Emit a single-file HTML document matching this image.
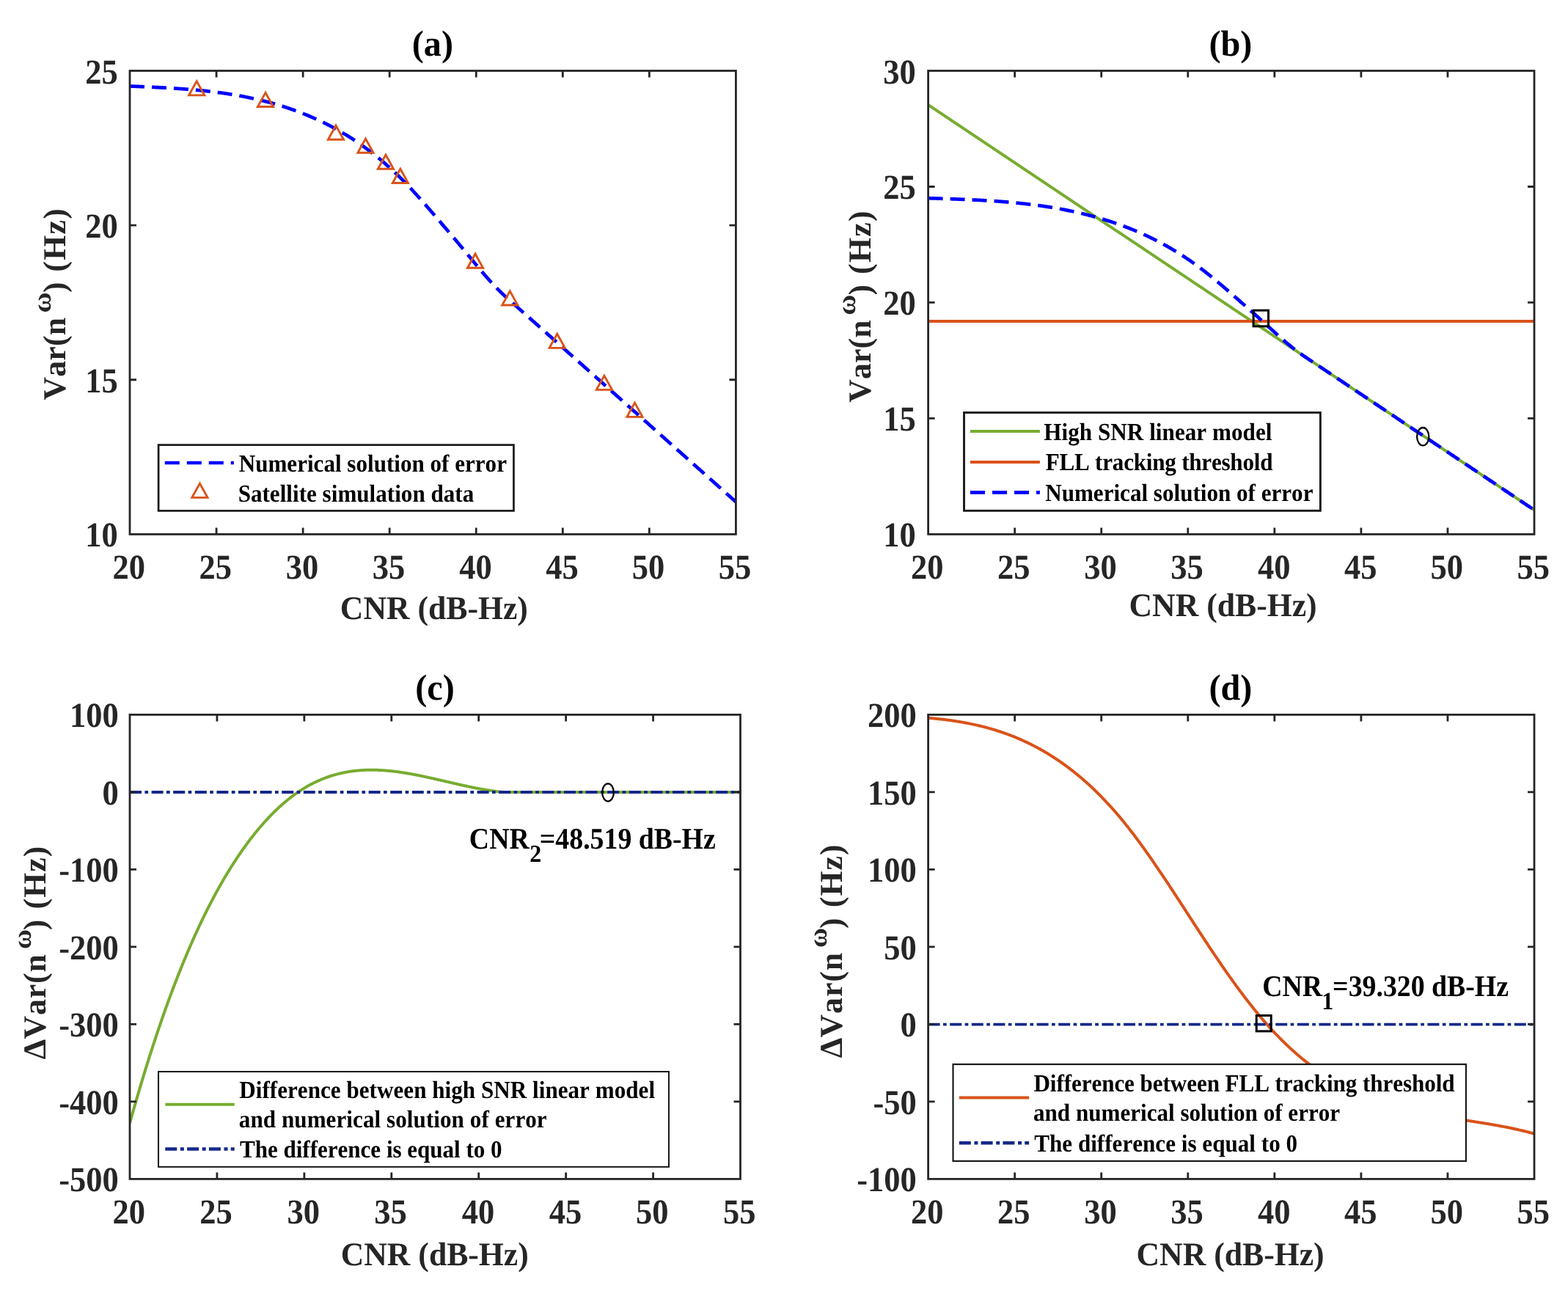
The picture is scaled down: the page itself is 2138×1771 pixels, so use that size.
<!DOCTYPE html>
<html><head><meta charset="utf-8"><title>Figure</title>
<style>
html,body{margin:0;padding:0;background:#fff;}
body{width:2138px;height:1771px;overflow:hidden;}
svg{display:block;}
text{font-kerning:none;text-rendering:geometricPrecision;}
</style></head><body>
<svg width="2138" height="1771" viewBox="0 0 2138 1771" font-family="'Liberation Serif', 'Times New Roman', serif">
<rect x="0" y="0" width="2138" height="1771" fill="#ffffff"/>
<clipPath id="clipa"><rect x="177.00" y="96.50" width="826.40" height="631.90"/></clipPath>
<clipPath id="clipb"><rect x="1265.60" y="96.50" width="826.40" height="631.90"/></clipPath>
<clipPath id="clipc"><rect x="177.00" y="974.40" width="832.50" height="633.00"/></clipPath>
<clipPath id="clipd"><rect x="1265.60" y="974.40" width="826.40" height="633.00"/></clipPath>
<g clip-path="url(#clipa)">
<path d="M177.00 117.42 L178.18 117.48 L179.36 117.53 L180.55 117.58 L181.73 117.63 L182.91 117.68 L184.09 117.73 L185.28 117.79 L186.46 117.84 L187.64 117.89 L188.82 117.94 L190.00 117.99 L191.19 118.05 L192.37 118.10 L193.55 118.15 L194.73 118.20 L195.92 118.26 L197.10 118.31 L198.28 118.36 L199.46 118.42 L200.65 118.47 L201.83 118.53 L203.01 118.58 L204.19 118.64 L205.37 118.69 L206.56 118.75 L207.74 118.81 L208.92 118.86 L210.10 118.92 L211.29 118.98 L212.47 119.04 L213.65 119.10 L214.83 119.15 L216.01 119.22 L217.20 119.28 L218.38 119.34 L219.56 119.40 L220.74 119.46 L221.93 119.53 L223.11 119.59 L224.29 119.66 L225.47 119.72 L226.65 119.79 L227.84 119.85 L229.02 119.92 L230.20 119.99 L231.38 120.06 L232.57 120.13 L233.75 120.20 L234.93 120.28 L236.11 120.35 L237.30 120.43 L238.48 120.50 L239.66 120.58 L240.84 120.66 L242.02 120.73 L243.21 120.81 L244.39 120.90 L245.57 120.98 L246.75 121.06 L247.94 121.15 L249.12 121.23 L250.30 121.32 L251.48 121.41 L252.66 121.50 L253.85 121.59 L255.03 121.68 L256.21 121.77 L257.39 121.87 L258.58 121.96 L259.76 122.06 L260.94 122.16 L262.12 122.26 L263.31 122.36 L264.49 122.47 L265.67 122.57 L266.85 122.68 L268.03 122.79 L269.22 122.90 L270.40 123.01 L271.58 123.12 L272.76 123.23 L273.95 123.35 L275.13 123.47 L276.31 123.59 L277.49 123.71 L278.67 123.83 L279.86 123.96 L281.04 124.08 L282.22 124.21 L283.40 124.34 L284.59 124.47 L285.77 124.61 L286.95 124.74 L288.13 124.88 L289.31 125.02 L290.50 125.16 L291.68 125.31 L292.86 125.45 L294.04 125.60 L295.23 125.75 L296.41 125.90 L297.59 126.06 L298.77 126.21 L299.96 126.37 L301.14 126.53 L302.32 126.69 L303.50 126.86 L304.68 127.03 L305.87 127.20 L307.05 127.37 L308.23 127.54 L309.41 127.72 L310.60 127.90 L311.78 128.08 L312.96 128.26 L314.14 128.45 L315.32 128.63 L316.51 128.83 L317.69 129.02 L318.87 129.21 L320.05 129.41 L321.24 129.61 L322.42 129.82 L323.60 130.02 L324.78 130.23 L325.96 130.44 L327.15 130.66 L328.33 130.87 L329.51 131.09 L330.69 131.31 L331.88 131.54 L333.06 131.77 L334.24 132.00 L335.42 132.23 L336.61 132.46 L337.79 132.70 L338.97 132.94 L340.15 133.19 L341.33 133.44 L342.52 133.69 L343.70 133.94 L344.88 134.20 L346.06 134.45 L347.25 134.72 L348.43 134.98 L349.61 135.25 L350.79 135.52 L351.97 135.80 L353.16 136.07 L354.34 136.35 L355.52 136.64 L356.70 136.93 L357.89 137.22 L359.07 137.51 L360.25 137.81 L361.43 138.11 L362.61 138.41 L363.80 138.72 L364.98 139.03 L366.16 139.34 L367.34 139.66 L368.53 139.98 L369.71 140.30 L370.89 140.63 L372.07 140.96 L373.26 141.29 L374.44 141.63 L375.62 141.97 L376.80 142.32 L377.98 142.66 L379.17 143.02 L380.35 143.37 L381.53 143.73 L382.71 144.09 L383.90 144.46 L385.08 144.83 L386.26 145.21 L387.44 145.58 L388.62 145.97 L389.81 146.35 L390.99 146.74 L392.17 147.13 L393.35 147.53 L394.54 147.93 L395.72 148.34 L396.90 148.75 L398.08 149.16 L399.26 149.57 L400.45 150.00 L401.63 150.42 L402.81 150.85 L403.99 151.28 L405.18 151.72 L406.36 152.16 L407.54 152.61 L408.72 153.05 L409.91 153.51 L411.09 153.97 L412.27 154.43 L413.45 154.89 L414.63 155.36 L415.82 155.84 L417.00 156.32 L418.18 156.80 L419.36 157.29 L420.55 157.78 L421.73 158.28 L422.91 158.78 L424.09 159.29 L425.27 159.80 L426.46 160.31 L427.64 160.83 L428.82 161.35 L430.00 161.88 L431.19 162.41 L432.37 162.95 L433.55 163.50 L434.73 164.04 L435.92 164.60 L437.10 165.15 L438.28 165.71 L439.46 166.28 L440.64 166.85 L441.83 167.43 L443.01 168.01 L444.19 168.60 L445.37 169.19 L446.56 169.79 L447.74 170.39 L448.92 171.00 L450.10 171.62 L451.28 172.23 L452.47 172.86 L453.65 173.49 L454.83 174.12 L456.01 174.76 L457.20 175.41 L458.38 176.06 L459.56 176.72 L460.74 177.38 L461.92 178.05 L463.11 178.72 L464.29 179.40 L465.47 180.09 L466.65 180.78 L467.84 181.48 L469.02 182.18 L470.20 182.89 L471.38 183.61 L472.57 184.33 L473.75 185.06 L474.93 185.79 L476.11 186.53 L477.29 187.27 L478.48 188.03 L479.66 188.78 L480.84 189.55 L482.02 190.32 L483.21 191.10 L484.39 191.88 L485.57 192.67 L486.75 193.46 L487.93 194.27 L489.12 195.08 L490.30 195.89 L491.48 196.71 L492.66 197.54 L493.85 198.38 L495.03 199.22 L496.21 200.07 L497.39 200.93 L498.57 201.79 L499.76 202.66 L500.94 203.54 L502.12 204.42 L503.30 205.31 L504.49 206.21 L505.67 207.11 L506.85 208.02 L508.03 208.94 L509.22 209.87 L510.40 210.80 L511.58 211.74 L512.76 212.69 L513.94 213.64 L515.13 214.60 L516.31 215.57 L517.49 216.55 L518.67 217.54 L519.86 218.53 L521.04 219.53 L522.22 220.53 L523.40 221.55 L524.58 222.57 L525.77 223.60 L526.95 224.64 L528.13 225.68 L529.31 226.74 L530.50 227.80 L531.68 228.87 L532.86 229.94 L534.04 231.03 L535.22 232.12 L536.41 233.22 L537.59 234.33 L538.77 235.45 L539.95 236.57 L541.14 237.70 L542.32 238.85 L543.50 239.99 L544.68 241.15 L545.87 242.32 L547.05 243.49 L548.23 244.68 L549.41 245.87 L550.59 247.07 L551.78 248.27 L552.96 249.49 L554.14 250.72 L555.32 251.95 L556.51 253.19 L557.69 254.43 L558.87 255.69 L560.05 256.95 L561.23 258.22 L562.42 259.49 L563.60 260.77 L564.78 262.06 L565.96 263.35 L567.15 264.65 L568.33 265.96 L569.51 267.27 L570.69 268.58 L571.87 269.90 L573.06 271.23 L574.24 272.56 L575.42 273.89 L576.60 275.23 L577.79 276.57 L578.97 277.92 L580.15 279.27 L581.33 280.63 L582.52 281.98 L583.70 283.34 L584.88 284.71 L586.06 286.07 L587.24 287.44 L588.43 288.81 L589.61 290.18 L590.79 291.56 L591.97 292.93 L593.16 294.31 L594.34 295.69 L595.52 297.07 L596.70 298.45 L597.88 299.83 L599.07 301.21 L600.25 302.60 L601.43 303.98 L602.61 305.36 L603.80 306.75 L604.98 308.13 L606.16 309.52 L607.34 310.90 L608.53 312.29 L609.71 313.67 L610.89 315.06 L612.07 316.45 L613.25 317.84 L614.44 319.23 L615.62 320.63 L616.80 322.02 L617.98 323.42 L619.17 324.81 L620.35 326.21 L621.53 327.61 L622.71 329.02 L623.89 330.42 L625.08 331.83 L626.26 333.24 L627.44 334.65 L628.62 336.06 L629.81 337.48 L630.99 338.90 L632.17 340.32 L633.35 341.75 L634.53 343.17 L635.72 344.60 L636.90 346.04 L638.08 347.47 L639.26 348.91 L640.45 350.34 L641.63 351.78 L642.81 353.22 L643.99 354.65 L645.18 356.09 L646.36 357.52 L647.54 358.95 L648.72 360.38 L649.90 361.80 L651.09 363.22 L652.27 364.64 L653.45 366.05 L654.63 367.45 L655.82 368.85 L657.00 370.25 L658.18 371.63 L659.36 373.01 L660.54 374.38 L661.73 375.74 L662.91 377.10 L664.09 378.46 L665.27 379.81 L666.46 381.15 L667.64 382.48 L668.82 383.80 L670.00 385.11 L671.18 386.40 L672.37 387.68 L673.55 388.94 L674.73 390.18 L675.91 391.41 L677.10 392.63 L678.28 393.83 L679.46 395.01 L680.64 396.18 L681.83 397.34 L683.01 398.49 L684.19 399.62 L685.37 400.75 L686.55 401.86 L687.74 402.96 L688.92 404.06 L690.10 405.15 L691.28 406.23 L692.47 407.30 L693.65 408.37 L694.83 409.43 L696.01 410.49 L697.19 411.54 L698.38 412.59 L699.56 413.64 L700.74 414.69 L701.92 415.73 L703.11 416.77 L704.29 417.82 L705.47 418.86 L706.65 419.90 L707.83 420.95 L709.02 421.99 L710.20 423.03 L711.38 424.08 L712.56 425.12 L713.75 426.17 L714.93 427.22 L716.11 428.27 L717.29 429.32 L718.48 430.37 L719.66 431.42 L720.84 432.47 L722.02 433.53 L723.20 434.58 L724.39 435.63 L725.57 436.69 L726.75 437.74 L727.93 438.79 L729.12 439.85 L730.30 440.90 L731.48 441.96 L732.66 443.01 L733.84 444.06 L735.03 445.12 L736.21 446.17 L737.39 447.22 L738.57 448.28 L739.76 449.33 L740.94 450.38 L742.12 451.44 L743.30 452.49 L744.48 453.54 L745.67 454.60 L746.85 455.65 L748.03 456.70 L749.21 457.76 L750.40 458.81 L751.58 459.86 L752.76 460.92 L753.94 461.97 L755.13 463.02 L756.31 464.08 L757.49 465.13 L758.67 466.18 L759.85 467.24 L761.04 468.29 L762.22 469.35 L763.40 470.40 L764.58 471.45 L765.77 472.51 L766.95 473.56 L768.13 474.61 L769.31 475.67 L770.49 476.72 L771.68 477.77 L772.86 478.83 L774.04 479.88 L775.22 480.93 L776.41 481.99 L777.59 483.04 L778.77 484.09 L779.95 485.15 L781.14 486.20 L782.32 487.25 L783.50 488.31 L784.68 489.36 L785.86 490.41 L787.05 491.47 L788.23 492.52 L789.41 493.58 L790.59 494.63 L791.78 495.68 L792.96 496.74 L794.14 497.79 L795.32 498.84 L796.50 499.90 L797.69 500.95 L798.87 502.00 L800.05 503.06 L801.23 504.11 L802.42 505.16 L803.60 506.22 L804.78 507.27 L805.96 508.32 L807.14 509.38 L808.33 510.43 L809.51 511.48 L810.69 512.54 L811.87 513.59 L813.06 514.64 L814.24 515.70 L815.42 516.75 L816.60 517.80 L817.79 518.86 L818.97 519.91 L820.15 520.97 L821.33 522.02 L822.51 523.07 L823.70 524.13 L824.88 525.18 L826.06 526.23 L827.24 527.29 L828.43 528.34 L829.61 529.39 L830.79 530.45 L831.97 531.50 L833.15 532.55 L834.34 533.61 L835.52 534.66 L836.70 535.71 L837.88 536.77 L839.07 537.82 L840.25 538.87 L841.43 539.93 L842.61 540.98 L843.79 542.03 L844.98 543.09 L846.16 544.14 L847.34 545.20 L848.52 546.25 L849.71 547.30 L850.89 548.36 L852.07 549.41 L853.25 550.46 L854.44 551.52 L855.62 552.57 L856.80 553.62 L857.98 554.68 L859.16 555.73 L860.35 556.78 L861.53 557.84 L862.71 558.89 L863.89 559.94 L865.08 561.00 L866.26 562.05 L867.44 563.10 L868.62 564.16 L869.80 565.21 L870.99 566.26 L872.17 567.32 L873.35 568.37 L874.53 569.43 L875.72 570.48 L876.90 571.53 L878.08 572.59 L879.26 573.64 L880.44 574.69 L881.63 575.75 L882.81 576.80 L883.99 577.85 L885.17 578.91 L886.36 579.96 L887.54 581.01 L888.72 582.07 L889.90 583.12 L891.09 584.17 L892.27 585.23 L893.45 586.28 L894.63 587.33 L895.81 588.39 L897.00 589.44 L898.18 590.49 L899.36 591.55 L900.54 592.60 L901.73 593.65 L902.91 594.71 L904.09 595.76 L905.27 596.82 L906.45 597.87 L907.64 598.92 L908.82 599.98 L910.00 601.03 L911.18 602.08 L912.37 603.14 L913.55 604.19 L914.73 605.24 L915.91 606.30 L917.09 607.35 L918.28 608.40 L919.46 609.46 L920.64 610.51 L921.82 611.56 L923.01 612.62 L924.19 613.67 L925.37 614.72 L926.55 615.78 L927.74 616.83 L928.92 617.88 L930.10 618.94 L931.28 619.99 L932.46 621.05 L933.65 622.10 L934.83 623.15 L936.01 624.21 L937.19 625.26 L938.38 626.31 L939.56 627.37 L940.74 628.42 L941.92 629.47 L943.10 630.53 L944.29 631.58 L945.47 632.63 L946.65 633.69 L947.83 634.74 L949.02 635.79 L950.20 636.85 L951.38 637.90 L952.56 638.95 L953.75 640.01 L954.93 641.06 L956.11 642.11 L957.29 643.17 L958.47 644.22 L959.66 645.27 L960.84 646.33 L962.02 647.38 L963.20 648.44 L964.39 649.49 L965.57 650.54 L966.75 651.60 L967.93 652.65 L969.11 653.70 L970.30 654.76 L971.48 655.81 L972.66 656.86 L973.84 657.92 L975.03 658.97 L976.21 660.02 L977.39 661.08 L978.57 662.13 L979.75 663.18 L980.94 664.24 L982.12 665.29 L983.30 666.34 L984.48 667.40 L985.67 668.45 L986.85 669.50 L988.03 670.56 L989.21 671.61 L990.40 672.67 L991.58 673.72 L992.76 674.77 L993.94 675.83 L995.12 676.88 L996.31 677.93 L997.49 678.99 L998.67 680.04 L999.85 681.09 L1001.04 682.15 L1002.22 683.20 L1003.40 684.25" fill="none" stroke="#0000ff" stroke-width="4.7" stroke-dasharray="20 10" stroke-linejoin="round"/>
<path d="M268.20 110.67 L257.60 129.88 L278.80 129.88 Z" fill="none" stroke="#d95319" stroke-width="2.9" stroke-linejoin="miter" stroke-miterlimit="10"/>
<path d="M362.00 126.37 L351.40 145.57 L372.60 145.57 Z" fill="none" stroke="#d95319" stroke-width="2.9" stroke-linejoin="miter" stroke-miterlimit="10"/>
<path d="M457.95 171.12 L447.35 190.32 L468.55 190.32 Z" fill="none" stroke="#d95319" stroke-width="2.9" stroke-linejoin="miter" stroke-miterlimit="10"/>
<path d="M498.45 189.12 L487.85 208.32 L509.05 208.32 Z" fill="none" stroke="#d95319" stroke-width="2.9" stroke-linejoin="miter" stroke-miterlimit="10"/>
<path d="M525.95 211.08 L515.35 230.28 L536.55 230.28 Z" fill="none" stroke="#d95319" stroke-width="2.9" stroke-linejoin="miter" stroke-miterlimit="10"/>
<path d="M545.90 230.23 L535.30 249.43 L556.50 249.43 Z" fill="none" stroke="#d95319" stroke-width="2.9" stroke-linejoin="miter" stroke-miterlimit="10"/>
<path d="M648.00 346.07 L637.40 365.27 L658.60 365.27 Z" fill="none" stroke="#d95319" stroke-width="2.9" stroke-linejoin="miter" stroke-miterlimit="10"/>
<path d="M695.30 396.88 L684.70 416.07 L705.90 416.07 Z" fill="none" stroke="#d95319" stroke-width="2.9" stroke-linejoin="miter" stroke-miterlimit="10"/>
<path d="M759.70 455.18 L749.10 474.38 L770.30 474.38 Z" fill="none" stroke="#d95319" stroke-width="2.9" stroke-linejoin="miter" stroke-miterlimit="10"/>
<path d="M823.90 512.17 L813.30 531.38 L834.50 531.38 Z" fill="none" stroke="#d95319" stroke-width="2.9" stroke-linejoin="miter" stroke-miterlimit="10"/>
<path d="M865.50 549.17 L854.90 568.38 L876.10 568.38 Z" fill="none" stroke="#d95319" stroke-width="2.9" stroke-linejoin="miter" stroke-miterlimit="10"/>
</g>
<g clip-path="url(#clipb)">
<path d="M1265.60 143.00 L2092.00 695.30" stroke="#77ac30" stroke-width="4" fill="none"/>
<path d="M1265.60 438.10 L2092.00 438.10" stroke="#d95319" stroke-width="4" fill="none"/>
<path d="M1265.60 270.17 L1266.78 270.21 L1267.96 270.25 L1269.15 270.28 L1270.33 270.32 L1271.51 270.36 L1272.69 270.40 L1273.88 270.44 L1275.06 270.48 L1276.24 270.52 L1277.42 270.56 L1278.60 270.60 L1279.79 270.63 L1280.97 270.67 L1282.15 270.71 L1283.33 270.75 L1284.52 270.79 L1285.70 270.83 L1286.88 270.87 L1288.06 270.91 L1289.25 270.95 L1290.43 271.00 L1291.61 271.04 L1292.79 271.08 L1293.97 271.12 L1295.16 271.16 L1296.34 271.20 L1297.52 271.25 L1298.70 271.29 L1299.89 271.33 L1301.07 271.38 L1302.25 271.42 L1303.43 271.47 L1304.61 271.51 L1305.80 271.56 L1306.98 271.60 L1308.16 271.65 L1309.34 271.70 L1310.53 271.74 L1311.71 271.79 L1312.89 271.84 L1314.07 271.89 L1315.25 271.94 L1316.44 271.99 L1317.62 272.04 L1318.80 272.09 L1319.98 272.15 L1321.17 272.20 L1322.35 272.25 L1323.53 272.31 L1324.71 272.36 L1325.90 272.42 L1327.08 272.48 L1328.26 272.53 L1329.44 272.59 L1330.62 272.65 L1331.81 272.71 L1332.99 272.77 L1334.17 272.83 L1335.35 272.90 L1336.54 272.96 L1337.72 273.02 L1338.90 273.09 L1340.08 273.15 L1341.26 273.22 L1342.45 273.29 L1343.63 273.36 L1344.81 273.43 L1345.99 273.50 L1347.18 273.57 L1348.36 273.65 L1349.54 273.72 L1350.72 273.80 L1351.91 273.87 L1353.09 273.95 L1354.27 274.03 L1355.45 274.11 L1356.63 274.19 L1357.82 274.27 L1359.00 274.35 L1360.18 274.44 L1361.36 274.53 L1362.55 274.61 L1363.73 274.70 L1364.91 274.79 L1366.09 274.88 L1367.27 274.97 L1368.46 275.07 L1369.64 275.16 L1370.82 275.26 L1372.00 275.36 L1373.19 275.46 L1374.37 275.56 L1375.55 275.66 L1376.73 275.76 L1377.91 275.87 L1379.10 275.97 L1380.28 276.08 L1381.46 276.19 L1382.64 276.30 L1383.83 276.41 L1385.01 276.53 L1386.19 276.64 L1387.37 276.76 L1388.56 276.88 L1389.74 277.00 L1390.92 277.12 L1392.10 277.24 L1393.28 277.37 L1394.47 277.50 L1395.65 277.63 L1396.83 277.76 L1398.01 277.89 L1399.20 278.02 L1400.38 278.16 L1401.56 278.30 L1402.74 278.43 L1403.92 278.58 L1405.11 278.72 L1406.29 278.86 L1407.47 279.01 L1408.65 279.16 L1409.84 279.31 L1411.02 279.46 L1412.20 279.62 L1413.38 279.77 L1414.56 279.93 L1415.75 280.09 L1416.93 280.25 L1418.11 280.42 L1419.29 280.58 L1420.48 280.75 L1421.66 280.92 L1422.84 281.10 L1424.02 281.27 L1425.21 281.45 L1426.39 281.63 L1427.57 281.81 L1428.75 281.99 L1429.93 282.18 L1431.12 282.36 L1432.30 282.55 L1433.48 282.75 L1434.66 282.94 L1435.85 283.14 L1437.03 283.34 L1438.21 283.54 L1439.39 283.74 L1440.57 283.95 L1441.76 284.15 L1442.94 284.37 L1444.12 284.58 L1445.30 284.79 L1446.49 285.01 L1447.67 285.23 L1448.85 285.45 L1450.03 285.68 L1451.21 285.91 L1452.40 286.14 L1453.58 286.37 L1454.76 286.60 L1455.94 286.84 L1457.13 287.08 L1458.31 287.33 L1459.49 287.57 L1460.67 287.82 L1461.86 288.07 L1463.04 288.32 L1464.22 288.58 L1465.40 288.84 L1466.58 289.10 L1467.77 289.36 L1468.95 289.63 L1470.13 289.90 L1471.31 290.17 L1472.50 290.45 L1473.68 290.72 L1474.86 291.00 L1476.04 291.29 L1477.22 291.57 L1478.41 291.86 L1479.59 292.16 L1480.77 292.45 L1481.95 292.75 L1483.14 293.05 L1484.32 293.35 L1485.50 293.66 L1486.68 293.97 L1487.86 294.28 L1489.05 294.60 L1490.23 294.92 L1491.41 295.24 L1492.59 295.56 L1493.78 295.89 L1494.96 296.22 L1496.14 296.55 L1497.32 296.89 L1498.51 297.23 L1499.69 297.57 L1500.87 297.92 L1502.05 298.27 L1503.23 298.62 L1504.42 298.98 L1505.60 299.34 L1506.78 299.70 L1507.96 300.07 L1509.15 300.44 L1510.33 300.81 L1511.51 301.18 L1512.69 301.56 L1513.87 301.95 L1515.06 302.33 L1516.24 302.72 L1517.42 303.11 L1518.60 303.51 L1519.79 303.91 L1520.97 304.31 L1522.15 304.72 L1523.33 305.13 L1524.52 305.55 L1525.70 305.96 L1526.88 306.39 L1528.06 306.81 L1529.24 307.24 L1530.43 307.67 L1531.61 308.11 L1532.79 308.55 L1533.97 309.00 L1535.16 309.44 L1536.34 309.90 L1537.52 310.35 L1538.70 310.81 L1539.88 311.28 L1541.07 311.74 L1542.25 312.22 L1543.43 312.69 L1544.61 313.17 L1545.80 313.66 L1546.98 314.15 L1548.16 314.64 L1549.34 315.14 L1550.52 315.64 L1551.71 316.14 L1552.89 316.65 L1554.07 317.17 L1555.25 317.69 L1556.44 318.21 L1557.62 318.74 L1558.80 319.27 L1559.98 319.81 L1561.17 320.35 L1562.35 320.89 L1563.53 321.44 L1564.71 322.00 L1565.89 322.56 L1567.08 323.12 L1568.26 323.69 L1569.44 324.26 L1570.62 324.84 L1571.81 325.42 L1572.99 326.01 L1574.17 326.60 L1575.35 327.20 L1576.53 327.80 L1577.72 328.41 L1578.90 329.02 L1580.08 329.64 L1581.26 330.26 L1582.45 330.88 L1583.63 331.52 L1584.81 332.15 L1585.99 332.79 L1587.17 333.44 L1588.36 334.09 L1589.54 334.75 L1590.72 335.41 L1591.90 336.08 L1593.09 336.75 L1594.27 337.43 L1595.45 338.12 L1596.63 338.81 L1597.82 339.50 L1599.00 340.20 L1600.18 340.90 L1601.36 341.62 L1602.54 342.33 L1603.73 343.05 L1604.91 343.78 L1606.09 344.51 L1607.27 345.25 L1608.46 346.00 L1609.64 346.74 L1610.82 347.50 L1612.00 348.26 L1613.18 349.03 L1614.37 349.80 L1615.55 350.58 L1616.73 351.36 L1617.91 352.15 L1619.10 352.95 L1620.28 353.75 L1621.46 354.56 L1622.64 355.37 L1623.82 356.19 L1625.01 357.02 L1626.19 357.85 L1627.37 358.68 L1628.55 359.53 L1629.74 360.38 L1630.92 361.23 L1632.10 362.10 L1633.28 362.96 L1634.47 363.84 L1635.65 364.72 L1636.83 365.61 L1638.01 366.50 L1639.19 367.40 L1640.38 368.31 L1641.56 369.22 L1642.74 370.14 L1643.92 371.06 L1645.11 371.99 L1646.29 372.93 L1647.47 373.87 L1648.65 374.81 L1649.83 375.76 L1651.02 376.72 L1652.20 377.68 L1653.38 378.65 L1654.56 379.62 L1655.75 380.59 L1656.93 381.57 L1658.11 382.55 L1659.29 383.54 L1660.47 384.53 L1661.66 385.52 L1662.84 386.52 L1664.02 387.52 L1665.20 388.52 L1666.39 389.53 L1667.57 390.54 L1668.75 391.55 L1669.93 392.57 L1671.12 393.59 L1672.30 394.61 L1673.48 395.63 L1674.66 396.65 L1675.84 397.68 L1677.03 398.71 L1678.21 399.74 L1679.39 400.77 L1680.57 401.80 L1681.76 402.83 L1682.94 403.87 L1684.12 404.90 L1685.30 405.94 L1686.48 406.97 L1687.67 408.01 L1688.85 409.05 L1690.03 410.09 L1691.21 411.12 L1692.40 412.16 L1693.58 413.20 L1694.76 414.24 L1695.94 415.28 L1697.13 416.32 L1698.31 417.36 L1699.49 418.40 L1700.67 419.44 L1701.85 420.48 L1703.04 421.52 L1704.22 422.57 L1705.40 423.62 L1706.58 424.66 L1707.77 425.71 L1708.95 426.76 L1710.13 427.81 L1711.31 428.86 L1712.49 429.92 L1713.68 430.97 L1714.86 432.03 L1716.04 433.09 L1717.22 434.15 L1718.41 435.21 L1719.59 436.27 L1720.77 437.34 L1721.95 438.41 L1723.13 439.48 L1724.32 440.55 L1725.50 441.63 L1726.68 442.70 L1727.86 443.78 L1729.05 444.86 L1730.23 445.94 L1731.41 447.01 L1732.59 448.09 L1733.78 449.17 L1734.96 450.24 L1736.14 451.31 L1737.32 452.38 L1738.50 453.45 L1739.69 454.52 L1740.87 455.58 L1742.05 456.64 L1743.23 457.69 L1744.42 458.74 L1745.60 459.78 L1746.78 460.82 L1747.96 461.86 L1749.14 462.88 L1750.33 463.90 L1751.51 464.93 L1752.69 465.94 L1753.87 466.96 L1755.06 467.96 L1756.24 468.96 L1757.42 469.95 L1758.60 470.93 L1759.78 471.90 L1760.97 472.86 L1762.15 473.80 L1763.33 474.74 L1764.51 475.66 L1765.70 476.57 L1766.88 477.47 L1768.06 478.36 L1769.24 479.24 L1770.43 480.11 L1771.61 480.97 L1772.79 481.82 L1773.97 482.66 L1775.15 483.50 L1776.34 484.32 L1777.52 485.14 L1778.70 485.96 L1779.88 486.77 L1781.07 487.57 L1782.25 488.37 L1783.43 489.17 L1784.61 489.96 L1785.79 490.75 L1786.98 491.54 L1788.16 492.33 L1789.34 493.11 L1790.52 493.90 L1791.71 494.68 L1792.89 495.46 L1794.07 496.25 L1795.25 497.03 L1796.43 497.81 L1797.62 498.59 L1798.80 499.38 L1799.98 500.16 L1801.16 500.94 L1802.35 501.73 L1803.53 502.51 L1804.71 503.30 L1805.89 504.09 L1807.08 504.88 L1808.26 505.67 L1809.44 506.46 L1810.62 507.25 L1811.80 508.04 L1812.99 508.83 L1814.17 509.62 L1815.35 510.41 L1816.53 511.20 L1817.72 511.99 L1818.90 512.78 L1820.08 513.57 L1821.26 514.36 L1822.44 515.15 L1823.63 515.94 L1824.81 516.73 L1825.99 517.52 L1827.17 518.31 L1828.36 519.10 L1829.54 519.89 L1830.72 520.68 L1831.90 521.47 L1833.08 522.26 L1834.27 523.05 L1835.45 523.84 L1836.63 524.63 L1837.81 525.42 L1839.00 526.21 L1840.18 527.00 L1841.36 527.79 L1842.54 528.58 L1843.73 529.37 L1844.91 530.16 L1846.09 530.95 L1847.27 531.74 L1848.45 532.53 L1849.64 533.32 L1850.82 534.11 L1852.00 534.90 L1853.18 535.69 L1854.37 536.48 L1855.55 537.27 L1856.73 538.06 L1857.91 538.85 L1859.09 539.64 L1860.28 540.43 L1861.46 541.22 L1862.64 542.01 L1863.82 542.80 L1865.01 543.59 L1866.19 544.38 L1867.37 545.17 L1868.55 545.96 L1869.74 546.75 L1870.92 547.54 L1872.10 548.33 L1873.28 549.12 L1874.46 549.91 L1875.65 550.70 L1876.83 551.49 L1878.01 552.28 L1879.19 553.07 L1880.38 553.86 L1881.56 554.65 L1882.74 555.44 L1883.92 556.23 L1885.10 557.02 L1886.29 557.81 L1887.47 558.60 L1888.65 559.39 L1889.83 560.18 L1891.02 560.97 L1892.20 561.76 L1893.38 562.55 L1894.56 563.34 L1895.74 564.13 L1896.93 564.92 L1898.11 565.71 L1899.29 566.50 L1900.47 567.29 L1901.66 568.08 L1902.84 568.87 L1904.02 569.66 L1905.20 570.45 L1906.39 571.24 L1907.57 572.03 L1908.75 572.82 L1909.93 573.61 L1911.11 574.40 L1912.30 575.19 L1913.48 575.98 L1914.66 576.77 L1915.84 577.56 L1917.03 578.35 L1918.21 579.14 L1919.39 579.93 L1920.57 580.73 L1921.75 581.52 L1922.94 582.31 L1924.12 583.10 L1925.30 583.89 L1926.48 584.68 L1927.67 585.47 L1928.85 586.26 L1930.03 587.05 L1931.21 587.84 L1932.39 588.63 L1933.58 589.42 L1934.76 590.21 L1935.94 591.00 L1937.12 591.79 L1938.31 592.58 L1939.49 593.37 L1940.67 594.16 L1941.85 594.95 L1943.04 595.74 L1944.22 596.53 L1945.40 597.32 L1946.58 598.11 L1947.76 598.90 L1948.95 599.69 L1950.13 600.48 L1951.31 601.27 L1952.49 602.06 L1953.68 602.85 L1954.86 603.64 L1956.04 604.43 L1957.22 605.22 L1958.40 606.01 L1959.59 606.80 L1960.77 607.59 L1961.95 608.38 L1963.13 609.17 L1964.32 609.96 L1965.50 610.75 L1966.68 611.54 L1967.86 612.33 L1969.04 613.12 L1970.23 613.91 L1971.41 614.70 L1972.59 615.49 L1973.77 616.28 L1974.96 617.07 L1976.14 617.86 L1977.32 618.65 L1978.50 619.44 L1979.69 620.23 L1980.87 621.02 L1982.05 621.81 L1983.23 622.60 L1984.41 623.39 L1985.60 624.18 L1986.78 624.97 L1987.96 625.76 L1989.14 626.55 L1990.33 627.34 L1991.51 628.13 L1992.69 628.92 L1993.87 629.71 L1995.05 630.50 L1996.24 631.29 L1997.42 632.08 L1998.60 632.87 L1999.78 633.66 L2000.97 634.45 L2002.15 635.24 L2003.33 636.03 L2004.51 636.82 L2005.69 637.61 L2006.88 638.40 L2008.06 639.19 L2009.24 639.98 L2010.42 640.77 L2011.61 641.56 L2012.79 642.35 L2013.97 643.14 L2015.15 643.93 L2016.34 644.72 L2017.52 645.51 L2018.70 646.30 L2019.88 647.09 L2021.06 647.88 L2022.25 648.67 L2023.43 649.46 L2024.61 650.25 L2025.79 651.04 L2026.98 651.83 L2028.16 652.62 L2029.34 653.41 L2030.52 654.20 L2031.70 654.99 L2032.89 655.78 L2034.07 656.57 L2035.25 657.37 L2036.43 658.16 L2037.62 658.95 L2038.80 659.74 L2039.98 660.53 L2041.16 661.32 L2042.35 662.11 L2043.53 662.90 L2044.71 663.69 L2045.89 664.48 L2047.07 665.27 L2048.26 666.06 L2049.44 666.85 L2050.62 667.64 L2051.80 668.43 L2052.99 669.22 L2054.17 670.01 L2055.35 670.80 L2056.53 671.59 L2057.71 672.38 L2058.90 673.17 L2060.08 673.96 L2061.26 674.75 L2062.44 675.54 L2063.63 676.33 L2064.81 677.12 L2065.99 677.91 L2067.17 678.70 L2068.35 679.49 L2069.54 680.28 L2070.72 681.07 L2071.90 681.86 L2073.08 682.65 L2074.27 683.44 L2075.45 684.23 L2076.63 685.02 L2077.81 685.81 L2079.00 686.60 L2080.18 687.39 L2081.36 688.18 L2082.54 688.97 L2083.72 689.76 L2084.91 690.55 L2086.09 691.34 L2087.27 692.13 L2088.45 692.92 L2089.64 693.71 L2090.82 694.50 L2092.00 695.29" fill="none" stroke="#0000ff" stroke-width="4.7" stroke-dasharray="20 10" stroke-linejoin="round"/>
<rect x="1709.10" y="423.15" width="20.4" height="21.7" fill="none" stroke="#000" stroke-width="3"/>
<ellipse cx="1940.2" cy="595.2" rx="8.1" ry="12.2" fill="none" stroke="#000" stroke-width="2.3"/>
</g>
<g clip-path="url(#clipc)">
<path d="M177.00 1531.24 L177.90 1528.00 L178.80 1524.78 L179.69 1521.57 L180.59 1518.38 L181.49 1515.20 L182.39 1512.03 L183.29 1508.88 L184.19 1505.74 L185.08 1502.62 L185.98 1499.51 L186.88 1496.41 L187.78 1493.33 L188.68 1490.26 L189.58 1487.21 L190.47 1484.17 L191.37 1481.15 L192.27 1478.13 L193.17 1475.14 L194.07 1472.15 L194.97 1469.18 L195.86 1466.22 L196.76 1463.28 L197.66 1460.35 L198.56 1457.44 L199.46 1454.53 L200.36 1451.65 L201.25 1448.77 L202.15 1445.91 L203.05 1443.06 L203.95 1440.23 L204.85 1437.40 L205.75 1434.60 L206.64 1431.80 L207.54 1429.02 L208.44 1426.25 L209.34 1423.50 L210.24 1420.76 L211.14 1418.03 L212.03 1415.31 L212.93 1412.61 L213.83 1409.92 L214.73 1407.24 L215.63 1404.58 L216.53 1401.93 L217.42 1399.29 L218.32 1396.67 L219.22 1394.06 L220.12 1391.46 L221.02 1388.87 L221.92 1386.30 L222.81 1383.74 L223.71 1381.19 L224.61 1378.65 L225.51 1376.13 L226.41 1373.62 L227.31 1371.12 L228.20 1368.64 L229.10 1366.17 L230.00 1363.71 L230.90 1361.26 L231.80 1358.82 L232.69 1356.40 L233.59 1353.99 L234.49 1351.59 L235.39 1349.21 L236.29 1346.83 L237.19 1344.47 L238.08 1342.12 L238.98 1339.78 L239.88 1337.46 L240.78 1335.15 L241.68 1332.84 L242.58 1330.56 L243.47 1328.28 L244.37 1326.01 L245.27 1323.76 L246.17 1321.52 L247.07 1319.29 L247.97 1317.07 L248.86 1314.86 L249.76 1312.67 L250.66 1310.49 L251.56 1308.32 L252.46 1306.16 L253.36 1304.01 L254.25 1301.87 L255.15 1299.75 L256.05 1297.63 L256.95 1295.53 L257.85 1293.44 L258.75 1291.36 L259.64 1289.30 L260.54 1287.24 L261.44 1285.19 L262.34 1283.16 L263.24 1281.14 L264.14 1279.13 L265.03 1277.13 L265.93 1275.14 L266.83 1273.16 L267.73 1271.19 L268.63 1269.23 L269.53 1267.29 L270.42 1265.35 L271.32 1263.43 L272.22 1261.52 L273.12 1259.62 L274.02 1257.73 L274.92 1255.85 L275.81 1253.98 L276.71 1252.12 L277.61 1250.27 L278.51 1248.43 L279.41 1246.60 L280.31 1244.79 L281.20 1242.98 L282.10 1241.19 L283.00 1239.40 L283.90 1237.63 L284.80 1235.86 L285.69 1234.11 L286.59 1232.37 L287.49 1230.63 L288.39 1228.91 L289.29 1227.20 L290.19 1225.49 L291.08 1223.80 L291.98 1222.12 L292.88 1220.45 L293.78 1218.78 L294.68 1217.13 L295.58 1215.49 L296.47 1213.86 L297.37 1212.23 L298.27 1210.62 L299.17 1209.02 L300.07 1207.43 L300.97 1205.84 L301.86 1204.27 L302.76 1202.71 L303.66 1201.15 L304.56 1199.61 L305.46 1198.07 L306.36 1196.55 L307.25 1195.03 L308.15 1193.52 L309.05 1192.03 L309.95 1190.54 L310.85 1189.06 L311.75 1187.59 L312.64 1186.13 L313.54 1184.68 L314.44 1183.24 L315.34 1181.81 L316.24 1180.39 L317.14 1178.97 L318.03 1177.57 L318.93 1176.18 L319.83 1174.79 L320.73 1173.41 L321.63 1172.04 L322.53 1170.68 L323.42 1169.33 L324.32 1167.99 L325.22 1166.66 L326.12 1165.34 L327.02 1164.02 L327.92 1162.71 L328.81 1161.42 L329.71 1160.13 L330.61 1158.85 L331.51 1157.58 L332.41 1156.31 L333.31 1155.06 L334.20 1153.81 L335.10 1152.57 L336.00 1151.34 L336.90 1150.12 L337.80 1148.91 L338.69 1147.71 L339.59 1146.51 L340.49 1145.32 L341.39 1144.14 L342.29 1142.97 L343.19 1141.81 L344.08 1140.66 L344.98 1139.51 L345.88 1138.37 L346.78 1137.24 L347.68 1136.12 L348.58 1135.01 L349.47 1133.90 L350.37 1132.80 L351.27 1131.72 L352.17 1130.64 L353.07 1129.56 L353.97 1128.50 L354.86 1127.44 L355.76 1126.39 L356.66 1125.35 L357.56 1124.32 L358.46 1123.30 L359.36 1122.28 L360.25 1121.27 L361.15 1120.27 L362.05 1119.28 L362.95 1118.30 L363.85 1117.32 L364.75 1116.36 L365.64 1115.40 L366.54 1114.44 L367.44 1113.50 L368.34 1112.56 L369.24 1111.63 L370.14 1110.71 L371.03 1109.80 L371.93 1108.90 L372.83 1108.00 L373.73 1107.11 L374.63 1106.23 L375.53 1105.36 L376.42 1104.49 L377.32 1103.63 L378.22 1102.78 L379.12 1101.94 L380.02 1101.10 L380.92 1100.28 L381.81 1099.46 L382.71 1098.65 L383.61 1097.84 L384.51 1097.05 L385.41 1096.26 L386.31 1095.48 L387.20 1094.70 L388.10 1093.94 L389.00 1093.18 L389.90 1092.43 L390.80 1091.68 L391.69 1090.95 L392.59 1090.22 L393.49 1089.50 L394.39 1088.79 L395.29 1088.08 L396.19 1087.38 L397.08 1086.69 L397.98 1086.01 L398.88 1085.33 L399.78 1084.66 L400.68 1084.00 L401.58 1083.35 L402.47 1082.70 L403.37 1082.06 L404.27 1081.43 L405.17 1080.81 L406.07 1080.19 L406.97 1079.58 L407.86 1078.98 L408.76 1078.38 L409.66 1077.80 L410.56 1077.21 L411.46 1076.64 L412.36 1076.07 L413.25 1075.52 L414.15 1074.96 L415.05 1074.42 L415.95 1073.88 L416.85 1073.35 L417.75 1072.82 L418.64 1072.31 L419.54 1071.79 L420.44 1071.29 L421.34 1070.79 L422.24 1070.30 L423.14 1069.82 L424.03 1069.34 L424.93 1068.87 L425.83 1068.41 L426.73 1067.95 L427.63 1067.50 L428.53 1067.06 L429.42 1066.62 L430.32 1066.19 L431.22 1065.76 L432.12 1065.34 L433.02 1064.93 L433.92 1064.53 L434.81 1064.13 L435.71 1063.74 L436.61 1063.35 L437.51 1062.97 L438.41 1062.59 L439.31 1062.22 L440.20 1061.86 L441.10 1061.51 L442.00 1061.16 L442.90 1060.81 L443.80 1060.47 L444.69 1060.14 L445.59 1059.82 L446.49 1059.50 L447.39 1059.18 L448.29 1058.87 L449.19 1058.57 L450.08 1058.27 L450.98 1057.98 L451.88 1057.69 L452.78 1057.41 L453.68 1057.14 L454.58 1056.87 L455.47 1056.61 L456.37 1056.35 L457.27 1056.10 L458.17 1055.85 L459.07 1055.61 L459.97 1055.37 L460.86 1055.14 L461.76 1054.92 L462.66 1054.70 L463.56 1054.48 L464.46 1054.27 L465.36 1054.07 L466.25 1053.87 L467.15 1053.67 L468.05 1053.48 L468.95 1053.30 L469.85 1053.12 L470.75 1052.95 L471.64 1052.78 L472.54 1052.61 L473.44 1052.46 L474.34 1052.30 L475.24 1052.15 L476.14 1052.01 L477.03 1051.87 L477.93 1051.73 L478.83 1051.60 L479.73 1051.48 L480.63 1051.35 L481.53 1051.24 L482.42 1051.13 L483.32 1051.02 L484.22 1050.92 L485.12 1050.82 L486.02 1050.72 L486.92 1050.63 L487.81 1050.55 L488.71 1050.47 L489.61 1050.39 L490.51 1050.32 L491.41 1050.25 L492.31 1050.19 L493.20 1050.13 L494.10 1050.07 L495.00 1050.02 L495.90 1049.97 L496.80 1049.93 L497.69 1049.89 L498.59 1049.86 L499.49 1049.82 L500.39 1049.80 L501.29 1049.77 L502.19 1049.75 L503.08 1049.74 L503.98 1049.73 L504.88 1049.72 L505.78 1049.71 L506.68 1049.71 L507.58 1049.72 L508.47 1049.72 L509.37 1049.73 L510.27 1049.75 L511.17 1049.77 L512.07 1049.79 L512.97 1049.81 L513.86 1049.84 L514.76 1049.87 L515.66 1049.90 L516.56 1049.94 L517.46 1049.98 L518.36 1050.03 L519.25 1050.08 L520.15 1050.13 L521.05 1050.18 L521.95 1050.24 L522.85 1050.30 L523.75 1050.36 L524.64 1050.43 L525.54 1050.50 L526.44 1050.57 L527.34 1050.65 L528.24 1050.72 L529.14 1050.81 L530.03 1050.89 L530.93 1050.98 L531.83 1051.07 L532.73 1051.16 L533.63 1051.25 L534.53 1051.35 L535.42 1051.45 L536.32 1051.56 L537.22 1051.66 L538.12 1051.77 L539.02 1051.88 L539.92 1052.00 L540.81 1052.11 L541.71 1052.23 L542.61 1052.35 L543.51 1052.47 L544.41 1052.60 L545.31 1052.73 L546.20 1052.86 L547.10 1052.99 L548.00 1053.12 L548.90 1053.26 L549.80 1053.40 L550.69 1053.54 L551.59 1053.68 L552.49 1053.83 L553.39 1053.97 L554.29 1054.12 L555.19 1054.28 L556.08 1054.43 L556.98 1054.58 L557.88 1054.74 L558.78 1054.90 L559.68 1055.06 L560.58 1055.22 L561.47 1055.38 L562.37 1055.55 L563.27 1055.72 L564.17 1055.88 L565.07 1056.06 L565.97 1056.23 L566.86 1056.40 L567.76 1056.58 L568.66 1056.75 L569.56 1056.93 L570.46 1057.11 L571.36 1057.29 L572.25 1057.47 L573.15 1057.65 L574.05 1057.84 L574.95 1058.02 L575.85 1058.21 L576.75 1058.40 L577.64 1058.59 L578.54 1058.78 L579.44 1058.97 L580.34 1059.16 L581.24 1059.36 L582.14 1059.55 L583.03 1059.74 L583.93 1059.94 L584.83 1060.14 L585.73 1060.34 L586.63 1060.53 L587.53 1060.73 L588.42 1060.93 L589.32 1061.14 L590.22 1061.34 L591.12 1061.54 L592.02 1061.74 L592.92 1061.95 L593.81 1062.15 L594.71 1062.35 L595.61 1062.56 L596.51 1062.76 L597.41 1062.97 L598.31 1063.18 L599.20 1063.38 L600.10 1063.59 L601.00 1063.80 L601.90 1064.01 L602.80 1064.21 L603.69 1064.42 L604.59 1064.63 L605.49 1064.84 L606.39 1065.05 L607.29 1065.25 L608.19 1065.46 L609.08 1065.67 L609.98 1065.88 L610.88 1066.09 L611.78 1066.30 L612.68 1066.50 L613.58 1066.71 L614.47 1066.92 L615.37 1067.13 L616.27 1067.34 L617.17 1067.54 L618.07 1067.75 L618.97 1067.96 L619.86 1068.16 L620.76 1068.37 L621.66 1068.57 L622.56 1068.78 L623.46 1068.98 L624.36 1069.18 L625.25 1069.39 L626.15 1069.59 L627.05 1069.79 L627.95 1069.99 L628.85 1070.19 L629.75 1070.39 L630.64 1070.59 L631.54 1070.79 L632.44 1070.98 L633.34 1071.18 L634.24 1071.38 L635.14 1071.57 L636.03 1071.76 L636.93 1071.96 L637.83 1072.15 L638.73 1072.34 L639.63 1072.53 L640.53 1072.72 L641.42 1072.90 L642.32 1073.09 L643.22 1073.27 L644.12 1073.46 L645.02 1073.64 L645.92 1073.82 L646.81 1074.00 L647.71 1074.17 L648.61 1074.35 L649.51 1074.53 L650.41 1074.70 L651.31 1074.87 L652.20 1075.04 L653.10 1075.21 L654.00 1075.38 L654.90 1075.54 L655.80 1075.71 L656.69 1075.87 L657.59 1076.03 L658.49 1076.19 L659.39 1076.34 L660.29 1076.50 L661.19 1076.65 L662.08 1076.80 L662.98 1076.95 L663.88 1077.10 L664.78 1077.24 L665.68 1077.39 L666.58 1077.53 L667.47 1077.67 L668.37 1077.80 L669.27 1077.94 L670.17 1078.07 L671.07 1078.20 L671.97 1078.33 L672.86 1078.45 L673.76 1078.58 L674.66 1078.70 L675.56 1078.82 L676.46 1078.93 L677.36 1079.04 L678.25 1079.16 L679.15 1079.26 L680.05 1079.37 L680.95 1079.47 L681.85 1079.57 L682.75 1079.67 L683.64 1079.77 L684.54 1079.86 L685.44 1079.95 L686.34 1080.00 L687.24 1080.00 L688.14 1080.00 L689.03 1080.00 L689.93 1080.00 L700.00 1080.00 L1009.50 1080.00" fill="none" stroke="#77ac30" stroke-width="4" stroke-linejoin="round"/>
<path d="M177 1080 L1009.5 1080" stroke="#15288b" stroke-width="3.8" stroke-dasharray="16 4.4 4.7 4.5" fill="none"/>
<ellipse cx="829" cy="1080.4" rx="7.85" ry="12.1" fill="none" stroke="#000" stroke-width="2.3"/>
</g>
<g clip-path="url(#clipd)">
<path d="M1265.60 978.80 L1266.78 978.90 L1267.96 979.01 L1269.15 979.11 L1270.33 979.22 L1271.51 979.33 L1272.69 979.44 L1273.88 979.55 L1275.06 979.67 L1276.24 979.78 L1277.42 979.90 L1278.60 980.03 L1279.79 980.15 L1280.97 980.28 L1282.15 980.41 L1283.33 980.54 L1284.52 980.68 L1285.70 980.82 L1286.88 980.96 L1288.06 981.10 L1289.25 981.25 L1290.43 981.40 L1291.61 981.55 L1292.79 981.70 L1293.97 981.86 L1295.16 982.02 L1296.34 982.19 L1297.52 982.35 L1298.70 982.52 L1299.89 982.70 L1301.07 982.87 L1302.25 983.05 L1303.43 983.23 L1304.61 983.42 L1305.80 983.61 L1306.98 983.80 L1308.16 983.99 L1309.34 984.19 L1310.53 984.39 L1311.71 984.60 L1312.89 984.81 L1314.07 985.02 L1315.25 985.23 L1316.44 985.45 L1317.62 985.67 L1318.80 985.90 L1319.98 986.13 L1321.17 986.36 L1322.35 986.60 L1323.53 986.84 L1324.71 987.09 L1325.90 987.34 L1327.08 987.59 L1328.26 987.84 L1329.44 988.10 L1330.62 988.37 L1331.81 988.64 L1332.99 988.91 L1334.17 989.19 L1335.35 989.47 L1336.54 989.75 L1337.72 990.04 L1338.90 990.33 L1340.08 990.63 L1341.26 990.93 L1342.45 991.24 L1343.63 991.55 L1344.81 991.86 L1345.99 992.18 L1347.18 992.50 L1348.36 992.83 L1349.54 993.16 L1350.72 993.50 L1351.91 993.84 L1353.09 994.19 L1354.27 994.54 L1355.45 994.89 L1356.63 995.25 L1357.82 995.62 L1359.00 995.99 L1360.18 996.36 L1361.36 996.74 L1362.55 997.13 L1363.73 997.52 L1364.91 997.91 L1366.09 998.31 L1367.27 998.71 L1368.46 999.12 L1369.64 999.54 L1370.82 999.96 L1372.00 1000.38 L1373.19 1000.81 L1374.37 1001.25 L1375.55 1001.69 L1376.73 1002.13 L1377.91 1002.58 L1379.10 1003.04 L1380.28 1003.50 L1381.46 1003.97 L1382.64 1004.44 L1383.83 1004.92 L1385.01 1005.40 L1386.19 1005.89 L1387.37 1006.39 L1388.56 1006.89 L1389.74 1007.39 L1390.92 1007.91 L1392.10 1008.42 L1393.28 1008.95 L1394.47 1009.48 L1395.65 1010.01 L1396.83 1010.55 L1398.01 1011.10 L1399.20 1011.66 L1400.38 1012.21 L1401.56 1012.78 L1402.74 1013.35 L1403.92 1013.93 L1405.11 1014.51 L1406.29 1015.10 L1407.47 1015.70 L1408.65 1016.30 L1409.84 1016.91 L1411.02 1017.52 L1412.20 1018.15 L1413.38 1018.77 L1414.56 1019.41 L1415.75 1020.05 L1416.93 1020.69 L1418.11 1021.35 L1419.29 1022.01 L1420.48 1022.67 L1421.66 1023.35 L1422.84 1024.03 L1424.02 1024.71 L1425.21 1025.41 L1426.39 1026.11 L1427.57 1026.82 L1428.75 1027.53 L1429.93 1028.25 L1431.12 1028.98 L1432.30 1029.71 L1433.48 1030.45 L1434.66 1031.20 L1435.85 1031.96 L1437.03 1032.72 L1438.21 1033.49 L1439.39 1034.27 L1440.57 1035.05 L1441.76 1035.84 L1442.94 1036.64 L1444.12 1037.45 L1445.30 1038.26 L1446.49 1039.08 L1447.67 1039.91 L1448.85 1040.74 L1450.03 1041.59 L1451.21 1042.44 L1452.40 1043.30 L1453.58 1044.16 L1454.76 1045.03 L1455.94 1045.92 L1457.13 1046.80 L1458.31 1047.70 L1459.49 1048.60 L1460.67 1049.52 L1461.86 1050.44 L1463.04 1051.36 L1464.22 1052.30 L1465.40 1053.24 L1466.58 1054.19 L1467.77 1055.15 L1468.95 1056.12 L1470.13 1057.09 L1471.31 1058.08 L1472.50 1059.07 L1473.68 1060.07 L1474.86 1061.08 L1476.04 1062.09 L1477.22 1063.12 L1478.41 1064.15 L1479.59 1065.19 L1480.77 1066.24 L1481.95 1067.30 L1483.14 1068.36 L1484.32 1069.44 L1485.50 1070.52 L1486.68 1071.61 L1487.86 1072.71 L1489.05 1073.82 L1490.23 1074.94 L1491.41 1076.06 L1492.59 1077.20 L1493.78 1078.34 L1494.96 1079.49 L1496.14 1080.66 L1497.32 1081.83 L1498.51 1083.00 L1499.69 1084.19 L1500.87 1085.39 L1502.05 1086.59 L1503.23 1087.81 L1504.42 1089.03 L1505.60 1090.27 L1506.78 1091.51 L1507.96 1092.76 L1509.15 1094.02 L1510.33 1095.29 L1511.51 1096.57 L1512.69 1097.86 L1513.87 1099.16 L1515.06 1100.46 L1516.24 1101.78 L1517.42 1103.10 L1518.60 1104.44 L1519.79 1105.78 L1520.97 1107.14 L1522.15 1108.50 L1523.33 1109.88 L1524.52 1111.26 L1525.70 1112.65 L1526.88 1114.06 L1528.06 1115.47 L1529.24 1116.89 L1530.43 1118.32 L1531.61 1119.76 L1532.79 1121.22 L1533.97 1122.68 L1535.16 1124.15 L1536.34 1125.63 L1537.52 1127.12 L1538.70 1128.62 L1539.88 1130.13 L1541.07 1131.65 L1542.25 1133.18 L1543.43 1134.72 L1544.61 1136.26 L1545.80 1137.81 L1546.98 1139.38 L1548.16 1140.95 L1549.34 1142.53 L1550.52 1144.11 L1551.71 1145.71 L1552.89 1147.31 L1554.07 1148.92 L1555.25 1150.54 L1556.44 1152.16 L1557.62 1153.80 L1558.80 1155.44 L1559.98 1157.08 L1561.17 1158.74 L1562.35 1160.40 L1563.53 1162.06 L1564.71 1163.74 L1565.89 1165.42 L1567.08 1167.10 L1568.26 1168.79 L1569.44 1170.49 L1570.62 1172.19 L1571.81 1173.90 L1572.99 1175.62 L1574.17 1177.34 L1575.35 1179.06 L1576.53 1180.79 L1577.72 1182.53 L1578.90 1184.27 L1580.08 1186.01 L1581.26 1187.76 L1582.45 1189.51 L1583.63 1191.27 L1584.81 1193.03 L1585.99 1194.80 L1587.17 1196.57 L1588.36 1198.34 L1589.54 1200.12 L1590.72 1201.90 L1591.90 1203.68 L1593.09 1205.47 L1594.27 1207.26 L1595.45 1209.05 L1596.63 1210.85 L1597.82 1212.65 L1599.00 1214.45 L1600.18 1216.25 L1601.36 1218.06 L1602.54 1219.86 L1603.73 1221.67 L1604.91 1223.49 L1606.09 1225.30 L1607.27 1227.11 L1608.46 1228.93 L1609.64 1230.75 L1610.82 1232.56 L1612.00 1234.38 L1613.18 1236.20 L1614.37 1238.02 L1615.55 1239.85 L1616.73 1241.67 L1617.91 1243.49 L1619.10 1245.31 L1620.28 1247.14 L1621.46 1248.96 L1622.64 1250.78 L1623.82 1252.60 L1625.01 1254.42 L1626.19 1256.24 L1627.37 1258.06 L1628.55 1259.88 L1629.74 1261.70 L1630.92 1263.52 L1632.10 1265.34 L1633.28 1267.15 L1634.47 1268.96 L1635.65 1270.77 L1636.83 1272.58 L1638.01 1274.39 L1639.19 1276.19 L1640.38 1278.00 L1641.56 1279.80 L1642.74 1281.60 L1643.92 1283.39 L1645.11 1285.18 L1646.29 1286.97 L1647.47 1288.76 L1648.65 1290.54 L1649.83 1292.32 L1651.02 1294.10 L1652.20 1295.87 L1653.38 1297.64 L1654.56 1299.41 L1655.75 1301.17 L1656.93 1302.93 L1658.11 1304.68 L1659.29 1306.43 L1660.47 1308.17 L1661.66 1309.91 L1662.84 1311.64 L1664.02 1313.37 L1665.20 1315.10 L1666.39 1316.82 L1667.57 1318.53 L1668.75 1320.24 L1669.93 1321.94 L1671.12 1323.64 L1672.30 1325.33 L1673.48 1327.02 L1674.66 1328.70 L1675.84 1330.38 L1677.03 1332.05 L1678.21 1333.71 L1679.39 1335.37 L1680.57 1337.02 L1681.76 1338.66 L1682.94 1340.30 L1684.12 1341.93 L1685.30 1343.56 L1686.48 1345.18 L1687.67 1346.79 L1688.85 1348.39 L1690.03 1349.99 L1691.21 1351.58 L1692.40 1353.17 L1693.58 1354.74 L1694.76 1356.31 L1695.94 1357.88 L1697.13 1359.43 L1698.31 1360.98 L1699.49 1362.52 L1700.67 1364.05 L1701.85 1365.57 L1703.04 1367.09 L1704.22 1368.60 L1705.40 1370.10 L1706.58 1371.59 L1707.77 1373.07 L1708.95 1374.55 L1710.13 1376.02 L1711.31 1377.47 L1712.49 1378.92 L1713.68 1380.36 L1714.86 1381.80 L1716.04 1383.22 L1717.22 1384.63 L1718.41 1386.04 L1719.59 1387.44 L1720.77 1388.82 L1721.95 1390.20 L1723.13 1391.57 L1724.32 1392.93 L1725.50 1394.28 L1726.68 1395.62 L1727.86 1396.95 L1729.05 1398.27 L1730.23 1399.59 L1731.41 1400.89 L1732.59 1402.19 L1733.78 1403.47 L1734.96 1404.75 L1736.14 1406.02 L1737.32 1407.28 L1738.50 1408.53 L1739.69 1409.77 L1740.87 1411.01 L1742.05 1412.23 L1743.23 1413.44 L1744.42 1414.65 L1745.60 1415.85 L1746.78 1417.04 L1747.96 1418.22 L1749.14 1419.39 L1750.33 1420.55 L1751.51 1421.70 L1752.69 1422.85 L1753.87 1423.98 L1755.06 1425.11 L1756.24 1426.23 L1757.42 1427.34 L1758.60 1428.44 L1759.78 1429.53 L1760.97 1430.62 L1762.15 1431.69 L1763.33 1432.76 L1764.51 1433.82 L1765.70 1434.87 L1766.88 1435.91 L1768.06 1436.94 L1769.24 1437.97 L1770.43 1438.98 L1771.61 1439.99 L1772.79 1440.99 L1773.97 1441.98 L1775.15 1442.97 L1776.34 1443.94 L1777.52 1444.91 L1778.70 1445.87 L1779.88 1446.82 L1781.07 1447.76 L1782.25 1448.69 L1783.43 1449.62 L1784.61 1450.53 L1785.79 1451.44 L1786.98 1452.35 L1788.16 1453.24 L1789.34 1454.12 L1790.52 1455.00 L1791.71 1455.87 L1792.89 1456.73 L1794.07 1457.58 L1795.25 1458.43 L1796.43 1459.27 L1797.62 1460.10 L1798.80 1460.92 L1799.98 1461.74 L1801.16 1462.54 L1802.35 1463.34 L1803.53 1464.14 L1804.71 1464.92 L1805.89 1465.70 L1807.08 1466.47 L1808.26 1467.23 L1809.44 1467.99 L1810.62 1468.74 L1811.80 1469.48 L1812.99 1470.22 L1814.17 1470.94 L1815.35 1471.66 L1816.53 1472.38 L1817.72 1473.09 L1818.90 1473.79 L1820.08 1474.48 L1821.26 1475.17 L1822.44 1475.84 L1823.63 1476.52 L1824.81 1477.18 L1825.99 1477.84 L1827.17 1478.50 L1828.36 1479.14 L1829.54 1479.78 L1830.72 1480.42 L1831.90 1481.05 L1833.08 1481.67 L1834.27 1482.28 L1835.45 1482.89 L1836.63 1483.49 L1837.81 1484.09 L1839.00 1484.68 L1840.18 1485.26 L1841.36 1485.84 L1842.54 1486.42 L1843.73 1486.98 L1844.91 1487.54 L1846.09 1488.10 L1847.27 1488.65 L1848.45 1489.19 L1849.64 1489.73 L1850.82 1490.26 L1852.00 1490.79 L1853.18 1491.31 L1854.37 1491.82 L1855.55 1492.33 L1856.73 1492.84 L1857.91 1493.33 L1859.09 1493.83 L1860.28 1494.32 L1861.46 1494.80 L1862.64 1495.28 L1863.82 1495.75 L1865.01 1496.22 L1866.19 1496.68 L1867.37 1497.14 L1868.55 1497.59 L1869.74 1498.04 L1870.92 1498.48 L1872.10 1498.92 L1873.28 1499.35 L1874.46 1499.78 L1875.65 1500.21 L1876.83 1500.63 L1878.01 1501.04 L1879.19 1501.45 L1880.38 1501.86 L1881.56 1502.26 L1882.74 1502.65 L1883.92 1503.05 L1885.10 1503.43 L1886.29 1503.82 L1887.47 1504.20 L1888.65 1504.57 L1889.83 1504.94 L1891.02 1505.31 L1892.20 1505.67 L1893.38 1506.03 L1894.56 1506.39 L1895.74 1506.74 L1896.93 1507.09 L1898.11 1507.43 L1899.29 1507.77 L1900.47 1508.11 L1901.66 1508.44 L1902.84 1508.77 L1904.02 1509.09 L1905.20 1509.41 L1906.39 1509.73 L1907.57 1510.04 L1908.75 1510.36 L1909.93 1510.66 L1911.11 1510.97 L1912.30 1511.27 L1913.48 1511.57 L1914.66 1511.86 L1915.84 1512.15 L1917.03 1512.44 L1918.21 1512.72 L1919.39 1513.01 L1920.57 1513.29 L1921.75 1513.56 L1922.94 1513.84 L1924.12 1514.11 L1925.30 1514.37 L1926.48 1514.64 L1927.67 1514.90 L1928.85 1515.16 L1930.03 1515.42 L1931.21 1515.67 L1932.39 1515.92 L1933.58 1516.17 L1934.76 1516.42 L1935.94 1516.66 L1937.12 1516.91 L1938.31 1517.15 L1939.49 1517.38 L1940.67 1517.62 L1941.85 1517.85 L1943.04 1518.08 L1944.22 1518.31 L1945.40 1518.54 L1946.58 1518.77 L1947.76 1518.99 L1948.95 1519.21 L1950.13 1519.43 L1951.31 1519.65 L1952.49 1519.86 L1953.68 1520.08 L1954.86 1520.29 L1956.04 1520.50 L1957.22 1520.71 L1958.40 1520.92 L1959.59 1521.12 L1960.77 1521.33 L1961.95 1521.53 L1963.13 1521.73 L1964.32 1521.93 L1965.50 1522.13 L1966.68 1522.33 L1967.86 1522.53 L1969.04 1522.73 L1970.23 1522.92 L1971.41 1523.11 L1972.59 1523.31 L1973.77 1523.50 L1974.96 1523.69 L1976.14 1523.88 L1977.32 1524.07 L1978.50 1524.26 L1979.69 1524.45 L1980.87 1524.63 L1982.05 1524.82 L1983.23 1525.01 L1984.41 1525.19 L1985.60 1525.38 L1986.78 1525.56 L1987.96 1525.75 L1989.14 1525.93 L1990.33 1526.11 L1991.51 1526.30 L1992.69 1526.48 L1993.87 1526.66 L1995.05 1526.84 L1996.24 1527.03 L1997.42 1527.21 L1998.60 1527.39 L1999.78 1527.58 L2000.97 1527.76 L2002.15 1527.94 L2003.33 1528.12 L2004.51 1528.31 L2005.69 1528.49 L2006.88 1528.67 L2008.06 1528.86 L2009.24 1529.04 L2010.42 1529.23 L2011.61 1529.41 L2012.79 1529.60 L2013.97 1529.79 L2015.15 1529.97 L2016.34 1530.16 L2017.52 1530.35 L2018.70 1530.54 L2019.88 1530.73 L2021.06 1530.92 L2022.25 1531.11 L2023.43 1531.31 L2024.61 1531.50 L2025.79 1531.70 L2026.98 1531.89 L2028.16 1532.09 L2029.34 1532.29 L2030.52 1532.49 L2031.70 1532.69 L2032.89 1532.89 L2034.07 1533.10 L2035.25 1533.30 L2036.43 1533.51 L2037.62 1533.72 L2038.80 1533.93 L2039.98 1534.14 L2041.16 1534.35 L2042.35 1534.56 L2043.53 1534.78 L2044.71 1535.00 L2045.89 1535.22 L2047.07 1535.44 L2048.26 1535.66 L2049.44 1535.89 L2050.62 1536.12 L2051.80 1536.35 L2052.99 1536.58 L2054.17 1536.81 L2055.35 1537.05 L2056.53 1537.29 L2057.71 1537.53 L2058.90 1537.77 L2060.08 1538.01 L2061.26 1538.26 L2062.44 1538.51 L2063.63 1538.76 L2064.81 1539.02 L2065.99 1539.28 L2067.17 1539.54 L2068.35 1539.80 L2069.54 1540.06 L2070.72 1540.33 L2071.90 1540.60 L2073.08 1540.88 L2074.27 1541.15 L2075.45 1541.43 L2076.63 1541.72 L2077.81 1542.00 L2079.00 1542.29 L2080.18 1542.58 L2081.36 1542.88 L2082.54 1543.18 L2083.72 1543.48 L2084.91 1543.78 L2086.09 1544.09 L2087.27 1544.40 L2088.45 1544.72 L2089.64 1545.04 L2090.82 1545.36 L2092.00 1545.68" fill="none" stroke="#d95319" stroke-width="4" stroke-linejoin="round"/>
<path d="M1265.6 1396.6 L2092 1396.6" stroke="#15288b" stroke-width="3.8" stroke-dasharray="16 4.4 4.7 4.5" fill="none"/>
<rect x="1713.20" y="1384.50" width="20" height="21.4" fill="none" stroke="#000" stroke-width="3"/>
</g>
<path d="M295.06 728.40 V719.40 M295.06 96.50 V105.50 M413.11 728.40 V719.40 M413.11 96.50 V105.50 M531.17 728.40 V719.40 M531.17 96.50 V105.50 M649.23 728.40 V719.40 M649.23 96.50 V105.50 M767.29 728.40 V719.40 M767.29 96.50 V105.50 M885.34 728.40 V719.40 M885.34 96.50 V105.50 M177.00 517.77 H186.00 M1003.40 517.77 H994.40 M177.00 307.13 H186.00 M1003.40 307.13 H994.40" stroke="#262626" stroke-width="2.8" fill="none"/>
<rect x="177.00" y="96.50" width="826.40" height="631.90" fill="none" stroke="#262626" stroke-width="2.8"/>
<path d="M1383.66 728.40 V719.40 M1383.66 96.50 V105.50 M1501.71 728.40 V719.40 M1501.71 96.50 V105.50 M1619.77 728.40 V719.40 M1619.77 96.50 V105.50 M1737.83 728.40 V719.40 M1737.83 96.50 V105.50 M1855.89 728.40 V719.40 M1855.89 96.50 V105.50 M1973.94 728.40 V719.40 M1973.94 96.50 V105.50 M1265.60 570.42 H1274.60 M2092.00 570.42 H2083.00 M1265.60 412.45 H1274.60 M2092.00 412.45 H2083.00 M1265.60 254.48 H1274.60 M2092.00 254.48 H2083.00" stroke="#262626" stroke-width="2.8" fill="none"/>
<rect x="1265.60" y="96.50" width="826.40" height="631.90" fill="none" stroke="#262626" stroke-width="2.8"/>
<path d="M295.93 1607.40 V1598.40 M295.93 974.40 V983.40 M414.86 1607.40 V1598.40 M414.86 974.40 V983.40 M533.79 1607.40 V1598.40 M533.79 974.40 V983.40 M652.71 1607.40 V1598.40 M652.71 974.40 V983.40 M771.64 1607.40 V1598.40 M771.64 974.40 V983.40 M890.57 1607.40 V1598.40 M890.57 974.40 V983.40 M177.00 1501.90 H186.00 M1009.50 1501.90 H1000.50 M177.00 1396.40 H186.00 M1009.50 1396.40 H1000.50 M177.00 1290.90 H186.00 M1009.50 1290.90 H1000.50 M177.00 1185.40 H186.00 M1009.50 1185.40 H1000.50 M177.00 1079.90 H186.00 M1009.50 1079.90 H1000.50" stroke="#262626" stroke-width="2.8" fill="none"/>
<rect x="177.00" y="974.40" width="832.50" height="633.00" fill="none" stroke="#262626" stroke-width="2.8"/>
<path d="M1383.66 1607.40 V1598.40 M1383.66 974.40 V983.40 M1501.71 1607.40 V1598.40 M1501.71 974.40 V983.40 M1619.77 1607.40 V1598.40 M1619.77 974.40 V983.40 M1737.83 1607.40 V1598.40 M1737.83 974.40 V983.40 M1855.89 1607.40 V1598.40 M1855.89 974.40 V983.40 M1973.94 1607.40 V1598.40 M1973.94 974.40 V983.40 M1265.60 1501.90 H1274.60 M2092.00 1501.90 H2083.00 M1265.60 1396.40 H1274.60 M2092.00 1396.40 H2083.00 M1265.60 1290.90 H1274.60 M2092.00 1290.90 H2083.00 M1265.60 1185.40 H1274.60 M2092.00 1185.40 H2083.00 M1265.60 1079.90 H1274.60 M2092.00 1079.90 H2083.00" stroke="#262626" stroke-width="2.8" fill="none"/>
<rect x="1265.60" y="974.40" width="826.40" height="633.00" fill="none" stroke="#262626" stroke-width="2.8"/>
<text transform="translate(153.46 788.50) scale(1 1.0700)" font-size="44.50" font-weight="700" fill="#262626">20</text>
<text transform="translate(271.49 788.50) scale(1 1.0700)" font-size="44.50" font-weight="700" fill="#262626">25</text>
<text transform="translate(389.68 788.50) scale(1 1.0700)" font-size="44.50" font-weight="700" fill="#262626">30</text>
<text transform="translate(507.70 788.50) scale(1 1.0700)" font-size="44.50" font-weight="700" fill="#262626">35</text>
<text transform="translate(626.32 788.50) scale(1 1.0700)" font-size="44.50" font-weight="700" fill="#262626">40</text>
<text transform="translate(744.35 788.50) scale(1 1.0700)" font-size="44.50" font-weight="700" fill="#262626">45</text>
<text transform="translate(861.85 788.50) scale(1 1.0700)" font-size="44.50" font-weight="700" fill="#262626">50</text>
<text transform="translate(979.87 788.50) scale(1 1.0700)" font-size="44.50" font-weight="700" fill="#262626">55</text>
<text transform="translate(116.19 745.40) scale(1 1.0700)" font-size="44.50" font-weight="700" fill="#262626">10</text>
<text transform="translate(116.13 534.77) scale(1 1.0700)" font-size="44.50" font-weight="700" fill="#262626">15</text>
<text transform="translate(116.19 324.13) scale(1 1.0700)" font-size="44.50" font-weight="700" fill="#262626">20</text>
<text transform="translate(116.13 113.50) scale(1 1.0700)" font-size="44.50" font-weight="700" fill="#262626">25</text>
<text transform="translate(1242.06 788.50) scale(1 1.0700)" font-size="44.50" font-weight="700" fill="#262626">20</text>
<text transform="translate(1360.09 788.50) scale(1 1.0700)" font-size="44.50" font-weight="700" fill="#262626">25</text>
<text transform="translate(1478.28 788.50) scale(1 1.0700)" font-size="44.50" font-weight="700" fill="#262626">30</text>
<text transform="translate(1596.30 788.50) scale(1 1.0700)" font-size="44.50" font-weight="700" fill="#262626">35</text>
<text transform="translate(1714.92 788.50) scale(1 1.0700)" font-size="44.50" font-weight="700" fill="#262626">40</text>
<text transform="translate(1832.95 788.50) scale(1 1.0700)" font-size="44.50" font-weight="700" fill="#262626">45</text>
<text transform="translate(1950.45 788.50) scale(1 1.0700)" font-size="44.50" font-weight="700" fill="#262626">50</text>
<text transform="translate(2068.47 788.50) scale(1 1.0700)" font-size="44.50" font-weight="700" fill="#262626">55</text>
<text transform="translate(1204.29 745.40) scale(1 1.0700)" font-size="44.50" font-weight="700" fill="#262626">10</text>
<text transform="translate(1204.23 587.42) scale(1 1.0700)" font-size="44.50" font-weight="700" fill="#262626">15</text>
<text transform="translate(1204.29 429.45) scale(1 1.0700)" font-size="44.50" font-weight="700" fill="#262626">20</text>
<text transform="translate(1204.23 271.48) scale(1 1.0700)" font-size="44.50" font-weight="700" fill="#262626">25</text>
<text transform="translate(1204.29 113.50) scale(1 1.0700)" font-size="44.50" font-weight="700" fill="#262626">30</text>
<text transform="translate(153.46 1667.50) scale(1 1.0700)" font-size="44.50" font-weight="700" fill="#262626">20</text>
<text transform="translate(272.36 1667.50) scale(1 1.0700)" font-size="44.50" font-weight="700" fill="#262626">25</text>
<text transform="translate(391.42 1667.50) scale(1 1.0700)" font-size="44.50" font-weight="700" fill="#262626">30</text>
<text transform="translate(510.31 1667.50) scale(1 1.0700)" font-size="44.50" font-weight="700" fill="#262626">35</text>
<text transform="translate(629.81 1667.50) scale(1 1.0700)" font-size="44.50" font-weight="700" fill="#262626">40</text>
<text transform="translate(748.70 1667.50) scale(1 1.0700)" font-size="44.50" font-weight="700" fill="#262626">45</text>
<text transform="translate(867.08 1667.50) scale(1 1.0700)" font-size="44.50" font-weight="700" fill="#262626">50</text>
<text transform="translate(985.97 1667.50) scale(1 1.0700)" font-size="44.50" font-weight="700" fill="#262626">55</text>
<text transform="translate(80.13 1624.40) scale(1 1.0700)" font-size="44.50" font-weight="700" fill="#262626">-500</text>
<text transform="translate(80.13 1518.90) scale(1 1.0700)" font-size="44.50" font-weight="700" fill="#262626">-400</text>
<text transform="translate(80.13 1413.40) scale(1 1.0700)" font-size="44.50" font-weight="700" fill="#262626">-300</text>
<text transform="translate(80.13 1307.90) scale(1 1.0700)" font-size="44.50" font-weight="700" fill="#262626">-200</text>
<text transform="translate(80.13 1202.40) scale(1 1.0700)" font-size="44.50" font-weight="700" fill="#262626">-100</text>
<text transform="translate(139.44 1096.90) scale(1 1.0700)" font-size="44.50" font-weight="700" fill="#262626">0</text>
<text transform="translate(94.94 991.40) scale(1 1.0700)" font-size="44.50" font-weight="700" fill="#262626">100</text>
<text transform="translate(1242.06 1667.50) scale(1 1.0700)" font-size="44.50" font-weight="700" fill="#262626">20</text>
<text transform="translate(1360.09 1667.50) scale(1 1.0700)" font-size="44.50" font-weight="700" fill="#262626">25</text>
<text transform="translate(1478.28 1667.50) scale(1 1.0700)" font-size="44.50" font-weight="700" fill="#262626">30</text>
<text transform="translate(1596.30 1667.50) scale(1 1.0700)" font-size="44.50" font-weight="700" fill="#262626">35</text>
<text transform="translate(1714.92 1667.50) scale(1 1.0700)" font-size="44.50" font-weight="700" fill="#262626">40</text>
<text transform="translate(1832.95 1667.50) scale(1 1.0700)" font-size="44.50" font-weight="700" fill="#262626">45</text>
<text transform="translate(1950.45 1667.50) scale(1 1.0700)" font-size="44.50" font-weight="700" fill="#262626">50</text>
<text transform="translate(2068.47 1667.50) scale(1 1.0700)" font-size="44.50" font-weight="700" fill="#262626">55</text>
<text transform="translate(1168.13 1624.40) scale(1 1.0700)" font-size="44.50" font-weight="700" fill="#262626">-100</text>
<text transform="translate(1190.38 1518.90) scale(1 1.0700)" font-size="44.50" font-weight="700" fill="#262626">-50</text>
<text transform="translate(1227.44 1413.40) scale(1 1.0700)" font-size="44.50" font-weight="700" fill="#262626">0</text>
<text transform="translate(1205.19 1307.90) scale(1 1.0700)" font-size="44.50" font-weight="700" fill="#262626">50</text>
<text transform="translate(1182.94 1202.40) scale(1 1.0700)" font-size="44.50" font-weight="700" fill="#262626">100</text>
<text transform="translate(1182.94 1096.90) scale(1 1.0700)" font-size="44.50" font-weight="700" fill="#262626">150</text>
<text transform="translate(1182.94 991.40) scale(1 1.0700)" font-size="44.50" font-weight="700" fill="#262626">200</text>
<text transform="translate(561.80 76.00) scale(1 1.0300)" font-size="48.20" font-weight="700" fill="#000">(a)</text>
<text transform="translate(1648.45 76.00) scale(1 1.0300)" font-size="48.20" font-weight="700" fill="#000">(b)</text>
<text transform="translate(566.20 954.00) scale(1 1.0300)" font-size="48.20" font-weight="700" fill="#000">(c)</text>
<text transform="translate(1648.45 954.00) scale(1 1.0300)" font-size="48.20" font-weight="700" fill="#000">(d)</text>
<text transform="translate(463.87 843.60) scale(1 1.0300)" font-size="43.70" font-weight="700" fill="#262626">CNR (dB-Hz)</text>
<text transform="translate(1539.57 840.00) scale(1 1.0300)" font-size="43.70" font-weight="700" fill="#262626">CNR (dB-Hz)</text>
<text transform="translate(464.77 1725.00) scale(1 1.0300)" font-size="43.70" font-weight="700" fill="#262626">CNR (dB-Hz)</text>
<text transform="translate(1549.57 1725.00) scale(1 1.0300)" font-size="43.70" font-weight="700" fill="#262626">CNR (dB-Hz)</text>
<text transform="translate(88.90 545.49) rotate(-90) translate(0 -0.00) scale(1 1.0000)" font-size="43.70" font-weight="700" fill="#262626" textLength="112.45" lengthAdjust="spacing">Var(n</text>
<text transform="translate(88.90 426.45) rotate(-90) translate(0 -20.35) scale(1 0.9242)" font-size="38.28" font-weight="700" fill="#262626">ω</text>
<text transform="translate(88.90 399.11) rotate(-90) translate(0 -0.00) scale(1 1.0000)" font-size="43.70" font-weight="700" fill="#262626">)</text>
<text transform="translate(88.90 370.72) rotate(-90) translate(0 -0.00) scale(1 1.0000)" font-size="43.70" font-weight="700" fill="#262626" textLength="86.64" lengthAdjust="spacing">(Hz)</text>
<text transform="translate(1186.70 548.79) rotate(-90) translate(0 -0.00) scale(1 1.0000)" font-size="43.70" font-weight="700" fill="#262626" textLength="112.45" lengthAdjust="spacing">Var(n</text>
<text transform="translate(1186.70 429.75) rotate(-90) translate(0 -20.35) scale(1 0.9242)" font-size="38.28" font-weight="700" fill="#262626">ω</text>
<text transform="translate(1186.70 402.41) rotate(-90) translate(0 -0.00) scale(1 1.0000)" font-size="43.70" font-weight="700" fill="#262626">)</text>
<text transform="translate(1186.70 374.02) rotate(-90) translate(0 -0.00) scale(1 1.0000)" font-size="43.70" font-weight="700" fill="#262626" textLength="86.64" lengthAdjust="spacing">(Hz)</text>
<text transform="translate(62.30 1444.35) rotate(-90) translate(0 -0.00) scale(1 1.0000)" font-size="43.70" font-weight="700" fill="#262626">Δ</text>
<text transform="translate(62.30 1416.59) rotate(-90) translate(0 -0.00) scale(1 1.0000)" font-size="43.70" font-weight="700" fill="#262626" textLength="115.45" lengthAdjust="spacing">Var(n</text>
<text transform="translate(62.30 1294.09) rotate(-90) translate(0 -20.35) scale(1 0.9629)" font-size="36.75" font-weight="700" fill="#262626">ω</text>
<text transform="translate(62.30 1268.31) rotate(-90) translate(0 -0.00) scale(1 1.0000)" font-size="43.70" font-weight="700" fill="#262626">)</text>
<text transform="translate(62.30 1239.42) rotate(-90) translate(0 -0.00) scale(1 1.0000)" font-size="43.70" font-weight="700" fill="#262626" textLength="85.74" lengthAdjust="spacing">(Hz)</text>
<text transform="translate(1147.80 1442.15) rotate(-90) translate(0 -0.00) scale(1 1.0000)" font-size="43.70" font-weight="700" fill="#262626">Δ</text>
<text transform="translate(1147.80 1414.39) rotate(-90) translate(0 -0.00) scale(1 1.0000)" font-size="43.70" font-weight="700" fill="#262626" textLength="115.45" lengthAdjust="spacing">Var(n</text>
<text transform="translate(1147.80 1291.89) rotate(-90) translate(0 -20.35) scale(1 0.9629)" font-size="36.75" font-weight="700" fill="#262626">ω</text>
<text transform="translate(1147.80 1266.11) rotate(-90) translate(0 -0.00) scale(1 1.0000)" font-size="43.70" font-weight="700" fill="#262626">)</text>
<text transform="translate(1147.80 1237.22) rotate(-90) translate(0 -0.00) scale(1 1.0000)" font-size="43.70" font-weight="700" fill="#262626" textLength="85.74" lengthAdjust="spacing">(Hz)</text>
<rect x="216.10" y="606.60" width="484.35" height="89.80" fill="#fff" stroke="#1a1a1a" stroke-width="2.70"/>
<path d="M224.8 631.0 H318.9" stroke="#0000ff" stroke-width="4.7" stroke-dasharray="20 10"/>
<path d="M272.40 659.17 L261.80 678.38 L283.00 678.38 Z" fill="none" stroke="#d95319" stroke-width="2.9" stroke-linejoin="miter" stroke-miterlimit="10"/>
<text transform="translate(325.71 642.70) scale(1 1.0750)" font-size="31.10" font-weight="700" fill="#000" textLength="365.26" lengthAdjust="spacing">Numerical solution of error</text>
<text transform="translate(324.64 683.90) scale(1 1.0750)" font-size="31.10" font-weight="700" fill="#000" textLength="321.63" lengthAdjust="spacing">Satellite simulation data</text>
<rect x="1314.50" y="562.50" width="485.85" height="133.80" fill="#fff" stroke="#1a1a1a" stroke-width="2.90"/>
<path d="M1323 588.0 H1417.9" stroke="#77ac30" stroke-width="3.9"/>
<path d="M1323 630.0 H1417.9" stroke="#d95319" stroke-width="3.9"/>
<path d="M1323 671.4 H1417.9" stroke="#0000ff" stroke-width="4.7" stroke-dasharray="20 10"/>
<text transform="translate(1423.27 599.50) scale(1 1.0750)" font-size="31.10" font-weight="700" fill="#000" textLength="311.16" lengthAdjust="spacing">High SNR linear model</text>
<text transform="translate(1425.77 641.10) scale(1 1.0750)" font-size="31.10" font-weight="700" fill="#000" textLength="309.68" lengthAdjust="spacing">FLL tracking threshold</text>
<text transform="translate(1425.21 682.50) scale(1 1.0750)" font-size="31.10" font-weight="700" fill="#000" textLength="365.26" lengthAdjust="spacing">Numerical solution of error</text>
<rect x="216.00" y="1461.05" width="695.95" height="129.80" fill="#fff" stroke="#1a1a1a" stroke-width="2.05"/>
<path d="M225.3 1505.8 H319.7" stroke="#77ac30" stroke-width="4"/>
<path d="M225.3 1566.5 H319.7" stroke="#15288b" stroke-width="4.5" stroke-dasharray="16 4.6 5 4.2"/>
<text transform="translate(326.25 1497.30) scale(1 1.0750)" font-size="31.10" font-weight="700" fill="#000" textLength="566.78" lengthAdjust="spacing">Difference between high SNR linear model</text>
<text transform="translate(325.80 1537.40) scale(1 1.0750)" font-size="31.10" font-weight="700" fill="#000" textLength="419.87" lengthAdjust="spacing">and numerical solution of error</text>
<text transform="translate(327.01 1577.50) scale(1 1.0750)" font-size="31.10" font-weight="700" fill="#000" textLength="357.57" lengthAdjust="spacing">The difference is equal to 0</text>
<rect x="1299.50" y="1451.00" width="699.40" height="132.00" fill="#fff" stroke="#1a1a1a" stroke-width="2.20"/>
<path d="M1307.8 1496.6 H1403.1" stroke="#d95319" stroke-width="4"/>
<path d="M1307.8 1558.3 H1403.1" stroke="#15288b" stroke-width="4.5" stroke-dasharray="16 4.6 5 4.2"/>
<text transform="translate(1409.45 1488.00) scale(1 1.0750)" font-size="31.10" font-weight="700" fill="#000" textLength="574.10" lengthAdjust="spacing">Difference between FLL tracking threshold</text>
<text transform="translate(1409.00 1528.40) scale(1 1.0750)" font-size="31.10" font-weight="700" fill="#000" textLength="418.17" lengthAdjust="spacing">and numerical solution of error</text>
<text transform="translate(1410.21 1570.30) scale(1 1.0750)" font-size="31.10" font-weight="700" fill="#000" textLength="358.87" lengthAdjust="spacing">The difference is equal to 0</text>
<text transform="translate(639.85 1156.90) scale(1 1.0800)" font-size="37.80" font-weight="700" fill="#000">CNR</text>
<text transform="translate(722.24 1175.40) scale(1 1.0500)" font-size="32.00" font-weight="700" fill="#000">2</text>
<text transform="translate(735.80 1156.90) scale(1 1.0800)" font-size="37.80" font-weight="700" fill="#000">=48.519 dB-Hz</text>
<text transform="translate(1721.15 1357.50) scale(1 1.0800)" font-size="37.80" font-weight="700" fill="#000">CNR</text>
<text transform="translate(1802.32 1376.00) scale(1 1.0500)" font-size="32.00" font-weight="700" fill="#000">1</text>
<text transform="translate(1817.10 1357.50) scale(1 1.0800)" font-size="37.80" font-weight="700" fill="#000">=39.320 dB-Hz</text>
</svg>
</body></html>
